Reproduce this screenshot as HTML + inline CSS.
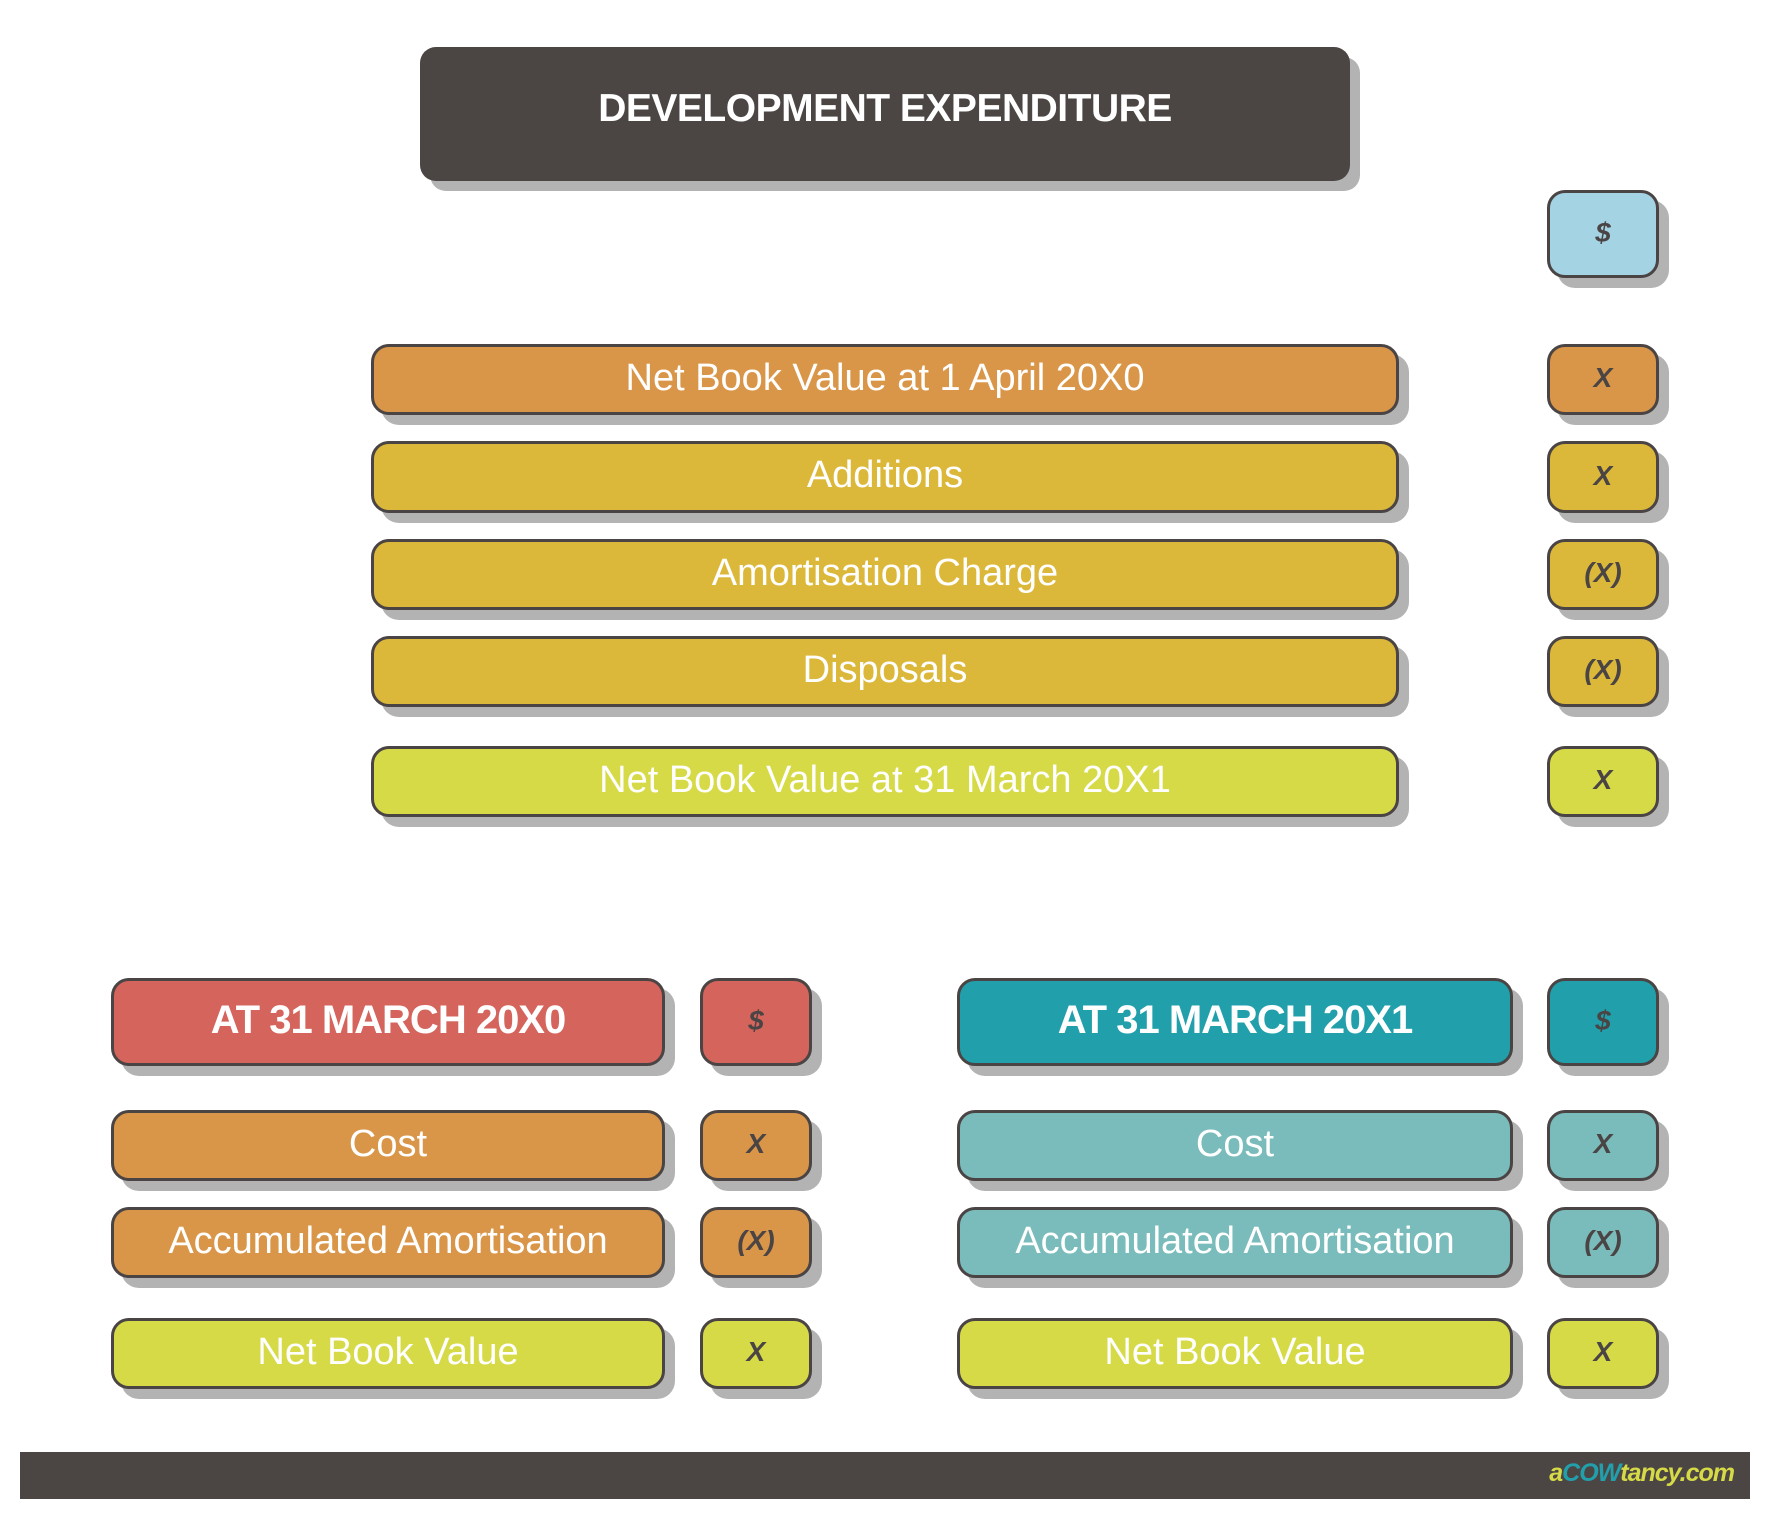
<!DOCTYPE html>
<html><head><meta charset="utf-8"><style>
html,body{margin:0;padding:0;background:#fff;}
body{width:1771px;height:1521px;position:relative;overflow:hidden;font-family:"Liberation Sans",sans-serif;}
.b{position:absolute;box-sizing:border-box;border:3.5px solid #4a4544;border-radius:18px;box-shadow:10px 10px 0 #b3b3b3;display:flex;align-items:center;justify-content:center;color:#fff;font-size:38px;padding-bottom:3px;}
.v{font-weight:bold;font-style:italic;color:#4a4544;font-size:28px;}
.h{font-weight:bold;font-size:40px;letter-spacing:-1px;}
.o{background:#da9648}.m{background:#dcb83a}.l{background:#d6da47}.lb{background:#a4d3e3}.r{background:#d4645c}.t{background:#21a0ac}.lt{background:#7abbbb}
</style></head><body>
<div style="position:absolute;left:420px;top:47px;width:930px;height:134px;background:#4b4644;border-radius:16px;box-shadow:10px 10px 0 #b3b3b3;display:flex;align-items:center;justify-content:center;color:#fff;font-weight:bold;font-size:39px;letter-spacing:-0.5px;padding-bottom:10px;box-sizing:border-box;">DEVELOPMENT EXPENDITURE</div>

<div class="b v lb" style="left:1547px;top:190px;width:112px;height:88px;">$</div>

<div class="b o" style="left:371px;top:344px;width:1028px;height:71px;">Net Book Value at 1 April 20X0</div>
<div class="b v o" style="left:1547px;top:344px;width:112px;height:71px;">X</div>
<div class="b m" style="left:371px;top:441px;width:1028px;height:72px;">Additions</div>
<div class="b v m" style="left:1547px;top:441px;width:112px;height:72px;">X</div>
<div class="b m" style="left:371px;top:539px;width:1028px;height:71px;">Amortisation Charge</div>
<div class="b v m" style="left:1547px;top:539px;width:112px;height:71px;">(X)</div>
<div class="b m" style="left:371px;top:636px;width:1028px;height:71px;">Disposals</div>
<div class="b v m" style="left:1547px;top:636px;width:112px;height:71px;">(X)</div>
<div class="b l" style="left:371px;top:746px;width:1028px;height:71px;">Net Book Value at 31 March 20X1</div>
<div class="b v l" style="left:1547px;top:746px;width:112px;height:71px;">X</div>

<div class="b h r" style="left:111px;top:978px;width:554px;height:88px;">AT 31 MARCH 20X0</div>
<div class="b v r" style="left:700px;top:978px;width:112px;height:88px;">$</div>
<div class="b o" style="left:111px;top:1110px;width:554px;height:71px;">Cost</div>
<div class="b v o" style="left:700px;top:1110px;width:112px;height:71px;">X</div>
<div class="b o" style="left:111px;top:1207px;width:554px;height:71px;">Accumulated Amortisation</div>
<div class="b v o" style="left:700px;top:1207px;width:112px;height:71px;">(X)</div>
<div class="b l" style="left:111px;top:1318px;width:554px;height:71px;">Net Book Value</div>
<div class="b v l" style="left:700px;top:1318px;width:112px;height:71px;">X</div>

<div class="b h t" style="left:957px;top:978px;width:556px;height:88px;">AT 31 MARCH 20X1</div>
<div class="b v t" style="left:1547px;top:978px;width:112px;height:88px;">$</div>
<div class="b lt" style="left:957px;top:1110px;width:556px;height:71px;">Cost</div>
<div class="b v lt" style="left:1547px;top:1110px;width:112px;height:71px;">X</div>
<div class="b lt" style="left:957px;top:1207px;width:556px;height:71px;">Accumulated Amortisation</div>
<div class="b v lt" style="left:1547px;top:1207px;width:112px;height:71px;">(X)</div>
<div class="b l" style="left:957px;top:1318px;width:556px;height:71px;">Net Book Value</div>
<div class="b v l" style="left:1547px;top:1318px;width:112px;height:71px;">X</div>

<div style="position:absolute;left:20px;top:1452px;width:1730px;height:47px;background:#4b4644;"></div>
<div style="position:absolute;right:37px;top:1459px;font-weight:bold;font-style:italic;font-size:25px;letter-spacing:-1px;color:#d6da47;">a<span style="color:#21a0ac">COW</span>tancy.com</div>
</body></html>
